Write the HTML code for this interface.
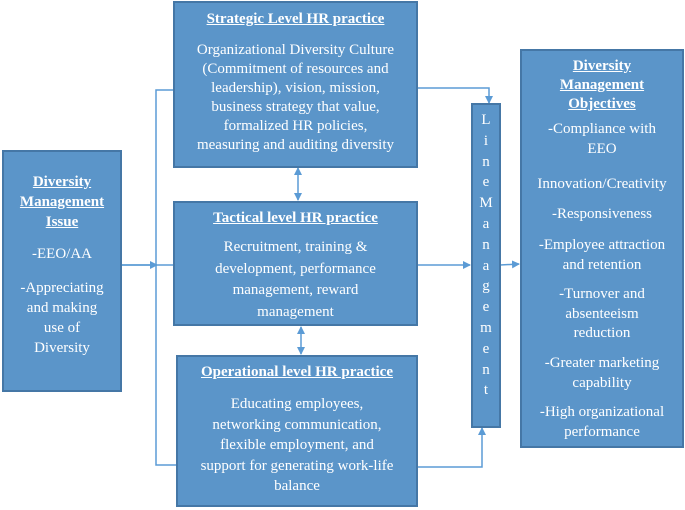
<!DOCTYPE html>
<html><head><meta charset="utf-8"><style>
body{margin:0;width:685px;height:510px;background:#fff;position:relative;overflow:hidden;font-family:"Liberation Serif",serif;color:#fff}
.b{position:absolute;background:#5b95c9;border:2px solid #4577a6;box-sizing:border-box}
.t{position:absolute;left:0;right:0;text-align:center;font-size:15px;white-space:nowrap}
.h{font-weight:bold;text-decoration:underline}
svg{position:absolute;left:0;top:0}
</style></head><body>
<svg width="685" height="510">
<defs><marker id="a" markerWidth="8" markerHeight="8" refX="7" refY="4" orient="auto" markerUnits="userSpaceOnUse"><path d="M0,0L8,4L0,8z" fill="#5b9bd5"/></marker>
<marker id="s" markerWidth="8" markerHeight="8" refX="1" refY="4" orient="auto" markerUnits="userSpaceOnUse"><path d="M8,0L0,4L8,8z" fill="#5b9bd5"/></marker></defs>
<g stroke="#5b9bd5" stroke-width="1.5" fill="none">
<polyline points="173,90 156,90 156,465 176,465"/>
<line x1="121" y1="265" x2="173" y2="265"/>
<line x1="121" y1="265" x2="157" y2="265" marker-end="url(#a)"/>
<line x1="418" y1="265" x2="470" y2="265" marker-end="url(#a)"/>
<line x1="500" y1="265" x2="519" y2="264" marker-end="url(#a)"/>
<polyline points="418,88 489,88 489,103" marker-end="url(#a)"/>
<polyline points="418,467 482,467 482,428" marker-end="url(#a)"/>
<line x1="298" y1="168" x2="298" y2="200" marker-start="url(#s)" marker-end="url(#a)"/>
<line x1="301" y1="327" x2="301" y2="354" marker-start="url(#s)" marker-end="url(#a)"/>
</g></svg>

<div class="b" style="left:173px;top:1px;width:245px;height:167px">
<div class="t h" style="top:8px">Strategic Level HR practice</div>
<div class="t" style="top:38px;line-height:19px">Organizational Diversity Culture<br>(Commitment of resources and<br>leadership), vision, mission,<br>business strategy that value,<br>formalized HR policies,<br>measuring and auditing diversity</div>
</div>

<div class="b" style="left:173px;top:201px;width:245px;height:125px">
<div class="t h" style="top:7px">Tactical level HR practice</div>
<div class="t" style="top:34px;line-height:21.5px">Recruitment, training &amp;<br>development, performance<br>management, reward<br>management</div>
</div>

<div class="b" style="left:176px;top:355px;width:242px;height:152px">
<div class="t h" style="top:7px">Operational level HR practice</div>
<div class="t" style="top:37px;line-height:20.5px">Educating employees,<br>networking communication,<br>flexible employment, and<br>support for generating work-life<br>balance</div>
</div>

<div class="b" style="left:2px;top:150px;width:120px;height:242px">
<div class="t h" style="top:20px;line-height:20px">Diversity<br>Management<br>Issue</div>
<div class="t" style="top:94px">-EEO/AA</div>
<div class="t" style="top:126px;line-height:20px">-Appreciating<br>and making<br>use of<br>Diversity</div>
</div>

<div class="b" style="left:471px;top:103px;width:30px;height:325px">
<div class="t" style="top:5px;line-height:20.8px">L<br>i<br>n<br>e<br>M<br>a<br>n<br>a<br>g<br>e<br>m<br>e<br>n<br>t</div>
</div>

<div class="b" style="left:520px;top:49px;width:164px;height:399px">
<div class="t h" style="top:6px;line-height:19px">Diversity<br>Management<br>Objectives</div>
<div class="t" style="top:68px;line-height:20px">-Compliance with<br>EEO</div>
<div class="t" style="top:125px">Innovation/Creativity</div>
<div class="t" style="top:155px">-Responsiveness</div>
<div class="t" style="top:184px;line-height:20px">-Employee attraction<br>and retention</div>
<div class="t" style="top:234px;line-height:19.5px">-Turnover and<br>absenteeism<br>reduction</div>
<div class="t" style="top:302px;line-height:20px">-Greater marketing<br>capability</div>
<div class="t" style="top:351px;line-height:20px">-High organizational<br>performance</div>
</div>
</body></html>
